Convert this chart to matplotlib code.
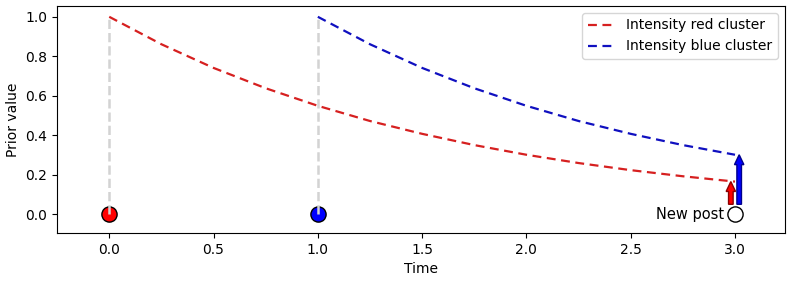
import numpy as np
import matplotlib
matplotlib.use("Agg")
import matplotlib.pyplot as plt

# prior value (red cluster from t=0, blue from t=1)
t_red = [0.0, 0.25, 0.5, 0.75, 1.0, 1.25, 1.5, 1.75, 2.0, 2.25, 2.5, 2.75, 3.0]
v_red = [1.0, 0.861, 0.741, 0.638, 0.549, 0.472, 0.407, 0.350, 0.301, 0.259, 0.223, 0.192, 0.165]
t_blue = [1.0, 1.25, 1.5, 1.75, 2.0, 2.25, 2.5, 2.75, 3.0]
v_blue = [1.0, 0.861, 0.741, 0.638, 0.549, 0.472, 0.407, 0.350, 0.301]

event_times = [0.0, 1.0]
event_colors = ["red", "blue"]
new_post_time = 3.0
arrow_base = 0.05

fig, ax = plt.subplots(figsize=(7.93, 2.83), dpi=100)

for t, c in zip(event_times, event_colors):
    ax.plot([t, t], [0, 1], ls="--", color="lightgray", lw=1.8, zorder=3)
    ax.scatter([t], [0], s=120, color=c, edgecolor="black", zorder=2)

ax.plot(t_red, v_red, ls="--", color="#d62020", lw=1.6, dashes=(4, 2.5),
        label="Intensity red cluster")
ax.plot(t_blue, v_blue, ls="--", color="#1010c0", lw=1.6, dashes=(4, 2.5),
        label="Intensity blue cluster")

# arrows at the new post showing each cluster's intensity
ax.arrow(new_post_time - 0.02, arrow_base, 0, v_red[-1] - arrow_base, width=0.022,
         head_width=0.045, head_length=0.05, length_includes_head=True,
         facecolor="red", edgecolor="darkred", zorder=4)
ax.arrow(new_post_time + 0.02, arrow_base, 0, v_blue[-1] - arrow_base, width=0.022,
         head_width=0.045, head_length=0.05, length_includes_head=True,
         facecolor="blue", edgecolor="darkblue", zorder=4)

ax.scatter([new_post_time], [0], s=120, color="white", edgecolor="black", zorder=5)
ax.text(new_post_time - 0.05, 0, "New post", ha="right", va="center", fontsize=10.5)

ax.set_xlim(-0.25, 3.24)
ax.set_ylim(-0.095, 1.055)
ax.set_xlabel("Time")
ax.set_ylabel("Prior value")
ax.legend(loc="upper right")

fig.subplots_adjust(left=0.072, right=0.99, top=0.979, bottom=0.177)
fig.savefig("out.png")
